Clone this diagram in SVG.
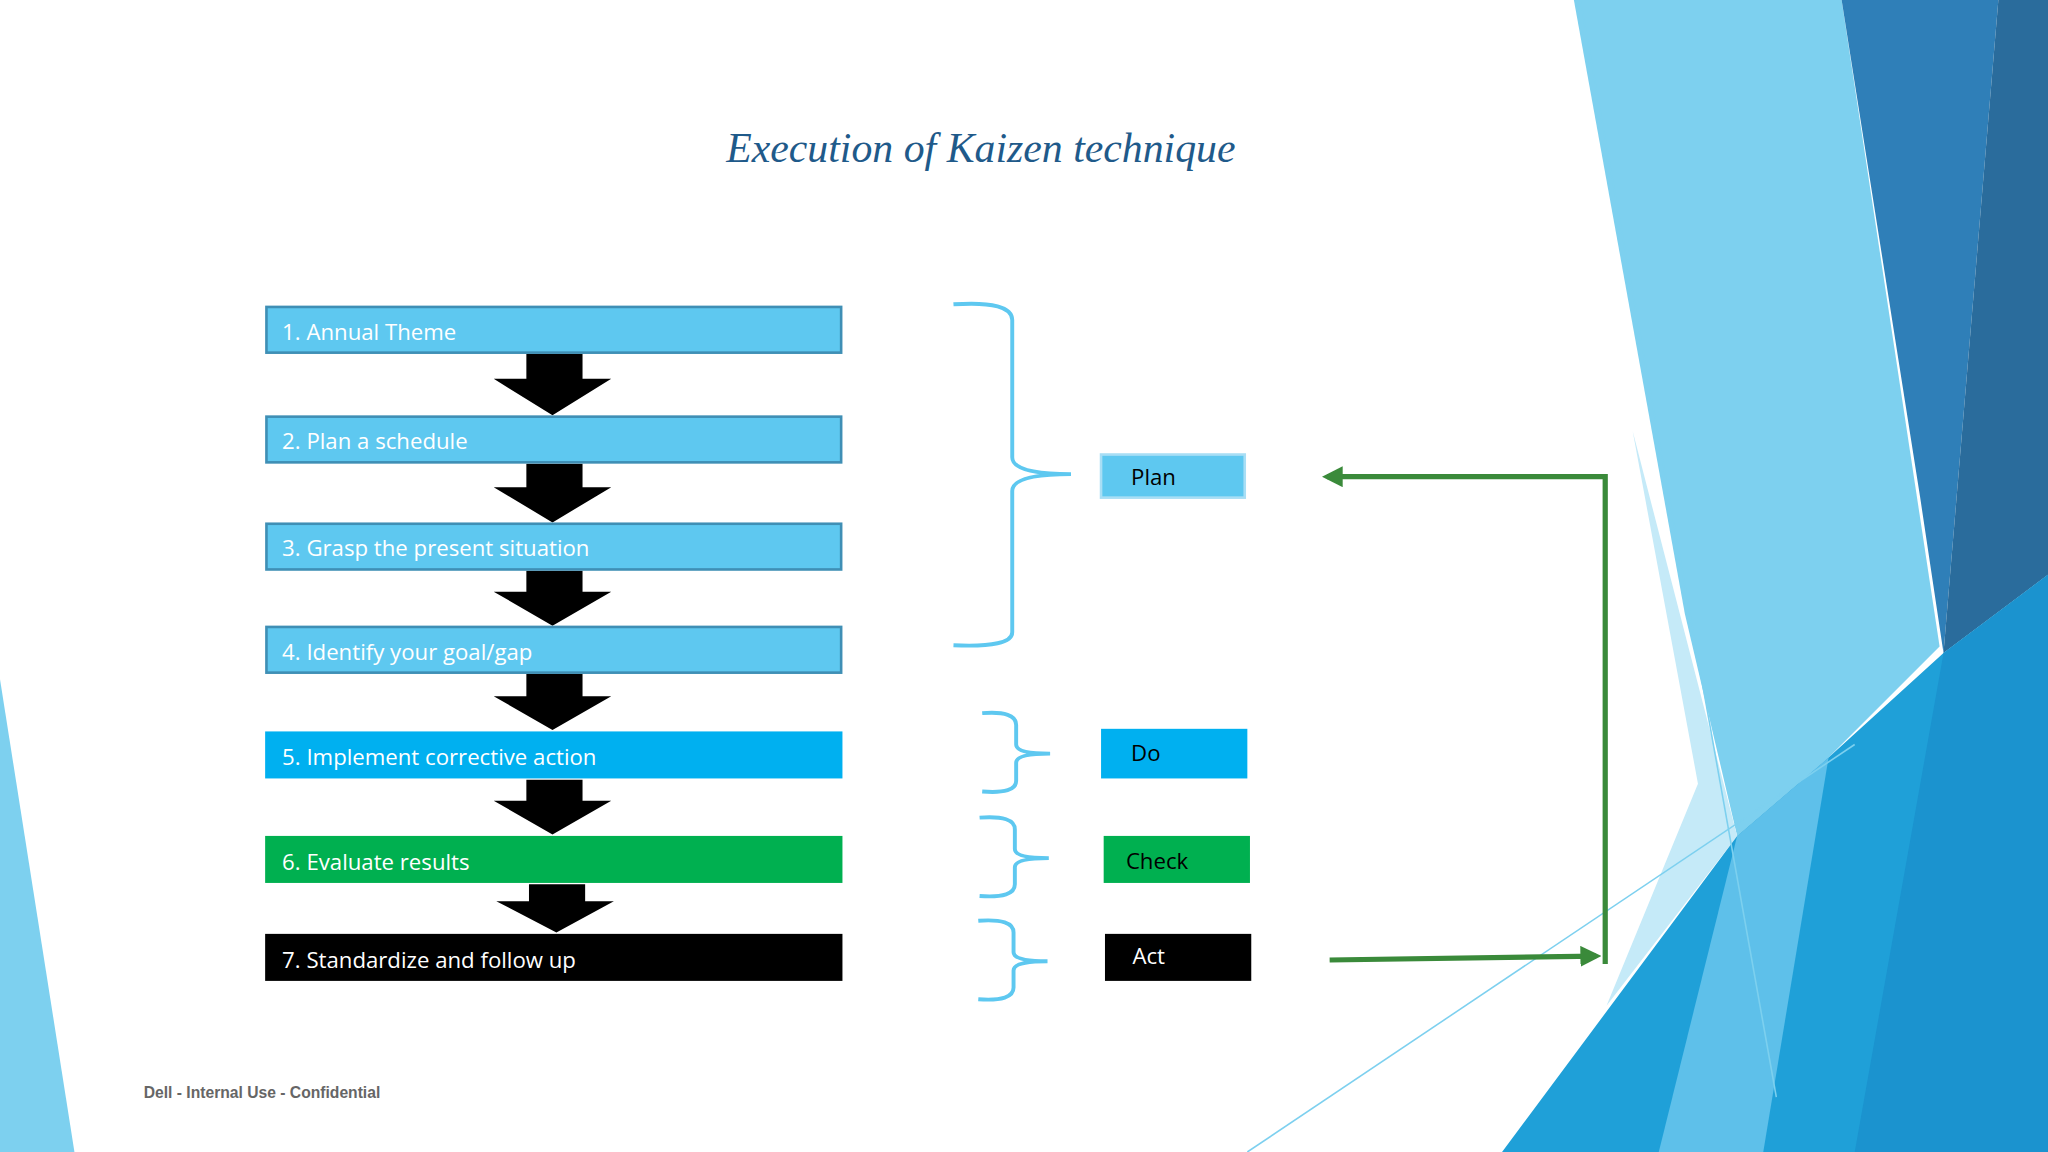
<svg xmlns="http://www.w3.org/2000/svg" width="2048" height="1152" viewBox="0 0 2048 1152">
<style>
.bt{font-family:"Open Sans","Liberation Sans",sans-serif;font-size:17px;fill:#fff}
.pt{font-family:"Open Sans","Liberation Sans",sans-serif;font-size:17px;fill:#000}
.br{fill:none;stroke:#5ec8f0;stroke-width:3}
.ar{fill:#000}
.g{fill:none;stroke:#3a8a3a;stroke-width:4}
</style>
<defs>
<marker id="m" markerWidth="4" markerHeight="4" refX="3" refY="2" orient="auto" markerUnits="strokeWidth"><path d="M0,0 L4,2 L0,4 z" fill="#3a8a3a"/></marker>
</defs>
<rect width="2048" height="1152" fill="#fff"/>
<g transform="scale(1.30612)">
<g id="background">
<polygon points="0,520 0,882 57,882" fill="#7dd0ef"/>
<polygon points="1205,0 1410,0 1485,495 1400,580 1330,640 1290,470" fill="#7dd0ef"/>
<polygon points="1250,330 1330,640 1230,770 1300,600" fill="#c5eaf8"/>
<polygon points="1410,0 1530,0 1488,500 1470,380" fill="#2f7fb8"/>
<polygon points="1530,0 1568,0 1568,440 1488,500" fill="#2a6c9c"/>
<polygon points="1150,882 1330,640 1400,580 1488,500 1568,440 1568,882" fill="#1fa0d8"/>
<polygon points="1330,640 1400,580 1350,882 1270,882" fill="#5ec0ea"/>
<polygon points="1488,500 1568,440 1568,882 1420,882" fill="#1b93cf"/>
<line x1="1210" y1="0" x2="1360" y2="840" stroke="#7dd0ef" stroke-width="1.2"/>
<line x1="955" y1="882" x2="1420" y2="570" stroke="#7dd0ef" stroke-width="1.2"/>
</g>
<text x="751" y="124" text-anchor="middle" font-family="Liberation Serif,serif" font-style="italic" font-size="32" fill="#1f5a8a">Execution of Kaizen technique</text>
<g id="connectors">
<polygon class="ar" points="403,271 446,271 446,290 468,290 423,318 378,290 403,290"/>
<polygon class="ar" points="403,355 446,355 446,373 468,373 423,400 378,373 403,373"/>
<polygon class="ar" points="403,437 446,437 446,453 468,453 423,479 378,453 403,453"/>
<polygon class="ar" points="403,516 446,516 446,533 468,533 423,559 378,533 403,533"/>
<polygon class="ar" points="403,597 446,597 446,613 468,613 423,639 378,613 403,613"/>
<polygon class="ar" points="405,677 448,677 448,690 470,690 426,714 380,690 405,690"/>
<path class="br" d="M730,233 Q775,230 775,245 L775,350 Q775,363 820,363 Q775,363 775,376 L775,484 Q775,496 730,494"/>
<path class="br" d="M752,546 Q778,544 778,555 L778,570 Q778,577 804,577 Q778,577 778,584 L778,598 Q778,608 752,606"/>
<path class="br" d="M750,626 Q777,624 777,635 L777,650 Q777,657 803,657 Q777,657 777,664 L777,677 Q777,688 750,686"/>
<path class="br" d="M749,705 Q776,703 776,714 L776,729 Q776,736 802,736 Q776,736 776,743 L776,756 Q776,767 749,765"/>
<path class="g" d="M1018,735 L1222,732" marker-end="url(#m)"/>
<path class="g" d="M1229,738 L1229,365 L1016,365" marker-end="url(#m)"/>
</g>
<g id="n1"><rect x="204" y="235" width="440" height="35" fill="#5ec8f0" stroke="#3f8fb5" stroke-width="2"/><text class="bt" x="216" y="260">1. Annual Theme</text></g>
<g id="n2"><rect x="204" y="319" width="440" height="35" fill="#5ec8f0" stroke="#3f8fb5" stroke-width="2"/><text class="bt" x="216" y="344">2. Plan a schedule</text></g>
<g id="n3"><rect x="204" y="401" width="440" height="35" fill="#5ec8f0" stroke="#3f8fb5" stroke-width="2"/><text class="bt" x="216" y="426">3. Grasp the present situation</text></g>
<g id="n4"><rect x="204" y="480" width="440" height="35" fill="#5ec8f0" stroke="#3f8fb5" stroke-width="2"/><text class="bt" x="216" y="505">4. Identify your goal/gap</text></g>
<g id="n5"><rect x="203" y="560" width="442" height="36" fill="#00b0f0"/><text class="bt" x="216" y="586">5. Implement corrective action</text></g>
<g id="n6"><rect x="203" y="640" width="442" height="36" fill="#00b050"/><text class="bt" x="216" y="666">6. Evaluate results</text></g>
<g id="n7"><rect x="203" y="715" width="442" height="36" fill="#000"/><text class="bt" x="216" y="741">7. Standardize and follow up</text></g>
<g id="plan"><rect x="843" y="348" width="110" height="33" fill="#5ec8f0" stroke="#a8def5" stroke-width="2"/><text class="pt" x="866" y="371">Plan</text></g>
<g id="do"><rect x="843" y="558" width="112" height="38" fill="#00b0f0"/><text class="pt" x="866" y="583">Do</text></g>
<g id="check"><rect x="845" y="640" width="112" height="36" fill="#00b050"/><text class="pt" x="862" y="665">Check</text></g>
<g id="act"><rect x="846" y="715" width="112" height="36" fill="#000"/><text class="bt" x="867" y="738">Act</text></g>
<text x="110" y="841" font-family="Liberation Sans,sans-serif" font-weight="bold" font-size="12" fill="#666">Dell - Internal Use - Confidential</text>
</g>
</svg>
